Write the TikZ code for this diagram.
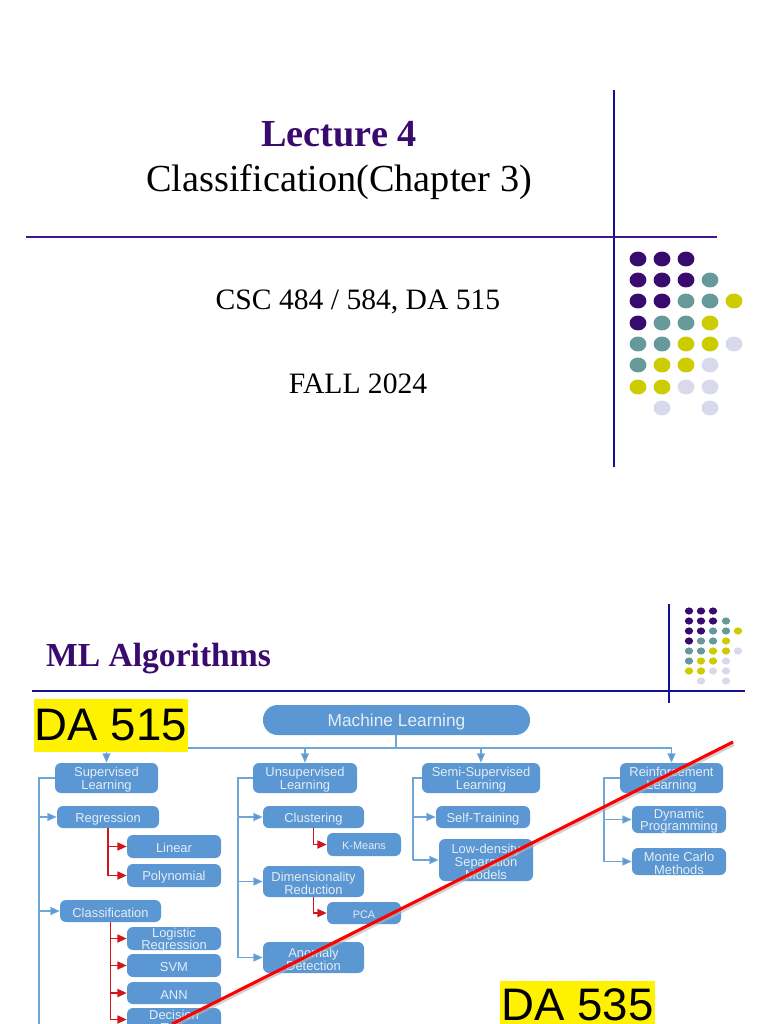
\documentclass[tikz,border=0pt]{standalone}
\usepackage{fontspec}
\setmainfont{Liberation Serif}
\newfontfamily\arialf{Liberation Sans}
\usetikzlibrary{arrows.meta}
\definecolor{plum}{HTML}{3A0B6E}
\definecolor{teal2}{HTML}{669999}
\definecolor{olive2}{HTML}{CCCC00}
\definecolor{lilac}{HTML}{D9D9EC}
\definecolor{navy2}{HTML}{14108F}
\definecolor{rulep}{HTML}{3C1A8C}
\definecolor{boxb}{HTML}{5B97D2}
\definecolor{linkb}{HTML}{6FA6D8}
\definecolor{boxt}{HTML}{E4EDF7}
\definecolor{redl}{HTML}{D2141C}
\newcommand{\bxnode}[7][boxfont]{%
  \pgfmathsetmacro\bxw{(#5-#3)*0.75}\pgfmathsetmacro\bxh{(#6-#4)*0.75}%
  \pgfmathsetmacro\bxx{(#3+#5)/2}\pgfmathsetmacro\bxy{(#4+#6)/2}%
  \node[mlbox,#1,minimum width=\bxw pt,minimum height=\bxh pt] (#2) at (\bxx,\bxy) {};
  \node[boxtext,#1] (#2-t) at ([yshift=-1.3pt]#2.center) {#7};}
\tikzset{
  mlbox/.style={fill=boxb,rounded corners=4.5pt,inner sep=0pt},
  boxtext/.style={text=boxt,inner sep=0pt,align=center},
  boxfont/.style={font=\arialf\fontsize{9.7}{9.6}\selectfont},
  boxsmall/.style={font=\arialf\fontsize{8.2}{9.6}\selectfont},
  boxbig/.style={font=\arialf\fontsize{13}{15}\selectfont,rounded corners=11pt},
  link/.style={draw=linkb,line width=0.9pt},
  linkarrow/.style={link,-{Triangle[length=7pt,width=6pt,fill=boxb]}},
  redarrow/.style={draw=redl,line width=1.3pt,-{Triangle[length=7pt,width=6pt,fill=redl]}},
  ttl/.style={inner sep=0pt,anchor=center},
  tag/.style={fill=yellow,text=black,inner sep=0pt,font=\arialf\fontsize{34.2}{36}\selectfont},
}
\begin{document}
\begin{tikzpicture}[x=0.75pt,y=-0.75pt]
\useasboundingbox (0,0) rectangle (768,1024);
\clip (0,0) rectangle (768,1024);
% --- top slide
\draw[navy2,line width=1.5pt] (614,90) -- (614,467);
\draw[rulep,line width=1.5pt] (26,237) -- (717,237);
\node[ttl,text=plum,font=\bfseries\fontsize{28.7}{30}\selectfont] (t1) at (339,134) {Lecture 4};
\node[ttl,font=\fontsize{28.7}{30}\selectfont] (t2) at (339,182.5) {Classification(Chapter 3)};
\node[ttl,font=\fontsize{22.2}{24}\selectfont] (t3) at (358,302) {CSC 484 / 584, DA 515};
\node[ttl,font=\fontsize{22.2}{24}\selectfont] (t4) at (358,384) {FALL 2024};
% big dots
\foreach \c/\xx/\yy in {plum/638/259,plum/662/259,plum/686/259,
  plum/638/280,plum/662/280,plum/686/280,teal2/710/280,
  plum/638/301,plum/662/301,teal2/686/301,teal2/710/301,olive2/734/301,
  plum/638/323,teal2/662/323,teal2/686/323,olive2/710/323,
  teal2/638/344,teal2/662/344,olive2/686/344,olive2/710/344,lilac/734/344,
  teal2/638/365,olive2/662/365,olive2/686/365,lilac/710/365,
  olive2/638/387,olive2/662/387,lilac/686/387,lilac/710/387,
  lilac/662/408,lilac/710/408}
  \fill[\c] (\xx,\yy) ellipse [x radius=6.3pt,y radius=5.6pt];
% --- second slide
\draw[navy2,line width=1.5pt] (669,604) -- (669,703);
\draw[navy2,line width=1.5pt] (32,691) -- (745,691);
\node[ttl,text=plum,font=\bfseries\fontsize{25.2}{27}\selectfont] (t5) at (158.5,659) {ML Algorithms};
\foreach \c/\xx/\yy in {plum/689/611,plum/701/611,plum/713/611,
  plum/689/621,plum/701/621,plum/713/621,teal2/726/621,
  plum/689/631,plum/701/631,teal2/713/631,teal2/726/631,olive2/738/631,
  plum/689/641,teal2/701/641,teal2/713/641,olive2/726/641,
  teal2/689/651,teal2/701/651,olive2/713/651,olive2/726/651,lilac/738/651,
  teal2/689/661,olive2/701/661,olive2/713/661,lilac/726/661,
  olive2/689/671,olive2/701/671,lilac/713/671,lilac/726/671,
  lilac/701/681,lilac/726/681}
  \fill[\c] (\xx,\yy) ellipse [x radius=3.1pt,y radius=2.7pt];
% --- boxes
\bxnode[boxbig]{ml}{263}{705}{530}{735}{Machine Learning}
\bxnode{sup}{55}{763}{158}{793}{Supervised\\Learning}
\bxnode{reg}{57}{806}{159}{828}{Regression}
\bxnode{lin}{127}{835}{221}{858}{Linear}
\bxnode{pol}{127}{864}{221}{887}{Polynomial}
\bxnode{cla}{60}{900}{161}{922}{Classification}
\bxnode{log}{127}{927}{221}{950}{Logistic\\Regression}
\bxnode{svm}{127}{954}{221}{977}{SVM}
\bxnode{ann}{127}{982}{221}{1004}{ANN}
\bxnode{dec}{127}{1008}{221}{1031}{Decision\\Tree}
\bxnode{uns}{253}{763}{357}{793}{Unsupervised\\Learning}
\bxnode{clu}{263}{806}{364}{828}{Clustering}
\bxnode[boxsmall]{kme}{327}{833}{401}{856}{K-Means}
\bxnode{dim}{263}{866}{364}{897}{Dimensionality\\Reduction}
\bxnode[boxsmall]{pca}{327}{902}{401}{924}{PCA}
\bxnode{ano}{263}{942}{364}{973}{Anomaly\\Detection}
\bxnode{sem}{422}{763}{540}{793}{Semi-Supervised\\Learning}
\bxnode{sel}{436}{806}{530}{828}{Self-Training}
\bxnode{low}{439}{839}{533}{881}{Low-density\\Separation\\Models}
\bxnode{rei}{620}{763}{723}{793}{Reinforcement\\Learning}
\bxnode{dyn}{632}{806}{726}{833}{Dynamic\\Programming}
\bxnode{mon}{632}{848}{726}{875}{Monte Carlo\\Methods}
% --- bus
\coordinate (busm) at (396,748);
\draw[link] (ml.south -| busm) -- (busm);
\draw[link] (sup.north |- busm) -- (rei.north |- busm);
\foreach \n in {sup,uns,sem,rei}
  \draw[linkarrow] (\n.north |- busm) -- (\n.north);
% --- trunks
\coordinate (ta) at (39,778);   \coordinate (tae) at (39,1024);
\coordinate (tb) at (238,778);
\coordinate (tc) at (413,778);
\coordinate (td) at (604,778);
\draw[link] (sup.west) -- (ta) -- (tae);
\draw[link] (uns.west) -- (tb) -- (tb |- ano.west);
\draw[link] (sem.west) -- (tc) -- (tc |- low.west);
\draw[link] (rei.west) -- (td) -- (td |- mon.west);
\draw[linkarrow] (ta |- reg.west) -- (reg.west);
\draw[linkarrow] (ta |- cla.west) -- (cla.west);
\draw[linkarrow] (tb |- clu.west) -- (clu.west);
\draw[linkarrow] (tb |- dim.west) -- (dim.west);
\draw[linkarrow] (tb |- ano.west) -- (ano.west);
\draw[linkarrow] (tc |- sel.west) -- (sel.west);
\draw[linkarrow] (tc |- low.west) -- (low.west);
\draw[linkarrow] (td |- dyn.west) -- (dyn.west);
\draw[linkarrow] (td |- mon.west) -- (mon.west);
% --- red connectors
\draw[redarrow] (reg.south) |- (lin.west);
\draw[redarrow] (reg.south) |- (pol.west);
\draw[redarrow] (cla.south) |- (log.west);
\draw[redarrow] (cla.south) |- (svm.west);
\draw[redarrow] (cla.south) |- (ann.west);
\draw[redarrow] (cla.south) |- (dec.west);
\draw[redarrow] (clu.south) |- (kme.west);
\draw[redarrow] (dim.south) |- (pca.west);
% --- yellow tags
\node[tag,minimum width=115.5pt,minimum height=39.5pt] (da515) at (111,725.5) {DA 515};
\node[tag,minimum width=116pt,minimum height=36pt,anchor=north] (da535) at (577.5,981) {DA 535};
% --- strike line
\coordinate (sa) at (733,742);
\coordinate (sb) at (172,1024);
\draw[black!30,line width=2pt,opacity=.6] ([shift={(1,2.5)}]sa) -- ([shift={(1,2.5)}]sb);
\draw[red,line width=2.3pt] (sa) -- (sb);
\end{tikzpicture}
\end{document}
